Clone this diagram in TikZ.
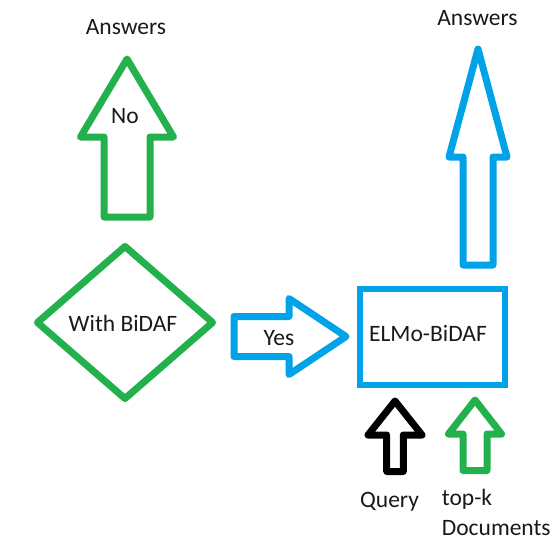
\documentclass[tikz,border=0pt]{standalone}
\usepackage{fontspec}
\setmainfont{Carlito}
\usetikzlibrary{shapes.geometric}
\definecolor{pgreen}{HTML}{22B14C}
\definecolor{pblue}{HTML}{00A2E8}
\tikzset{
  blockarrow/.style={line width=7pt, line join=round, fill=white},
  lbl/.style={font=\fontsize{23.5}{28}\selectfont, inner sep=0pt, text=black!90},
}
% color, cx, tipy, basey, headhalf, shafthalf, bottomy
\newcommand\blockup[7]{%
  \draw[blockarrow, draw=#1] (#2,#3) -- (#2+#5,#4) -- (#2+#6,#4) -- (#2+#6,#7)
    -- (#2-#6,#7) -- (#2-#6,#4) -- (#2-#5,#4) -- cycle;}
\begin{document}
\begin{tikzpicture}[x=1pt,y=-1pt]
\useasboundingbox (0,0) rectangle (560,549);
% decision diamond
\node[diamond, aspect=1.148, draw=pgreen, line width=7pt, line join=round,
      minimum width=178pt, minimum height=155pt, inner sep=0pt] (bidaf) at (125,322.5) {};
\node[lbl, anchor=base] (bidaftxt) at (123,331) {With BiDAF};
% ELMo-BiDAF box
\node[draw=pblue, line width=6pt, minimum width=145pt, minimum height=96pt, inner sep=0pt] (elmo) at (432.5,337) {};
\node[lbl, anchor=base] (elmotxt) at (428,341) {ELMo-BiDAF};
% No arrow
\blockup{pgreen}{127}{59}{137}{46.5}{23}{217}
\node[lbl, anchor=base] (no) at (125,123) {No};
\node[lbl, anchor=base] (ans1) at (126,34.3) {Answers};
% right answers arrow
\blockup{pblue}{478}{49}{157}{29}{15}{265}
\node[lbl, anchor=base] (ans2) at (477.5,25) {Answers};
% Yes arrow
\draw[blockarrow, draw=pblue] (346,336.5) -- (289,298.5) -- (289,316.5) -- (234,316.5)
  -- (234,356.5) -- (289,356.5) -- (289,374.5) -- cycle;
\node[lbl, anchor=base] (yes) at (279,345) {Yes};
% Query arrow
\blockup{black}{395}{401}{435}{27}{8.3}{471.5}
\node[lbl, anchor=base] (query) at (389.5,507) {Query};
% top-k arrow
\blockup{pgreen}{475}{400}{434}{26.5}{12}{470.5}
\node[lbl, anchor=base west] (topk) at (441.7,505) {top-k};
\node[lbl, anchor=base west] (docs) at (441.7,535) {Documents};
\end{tikzpicture}
\end{document}
